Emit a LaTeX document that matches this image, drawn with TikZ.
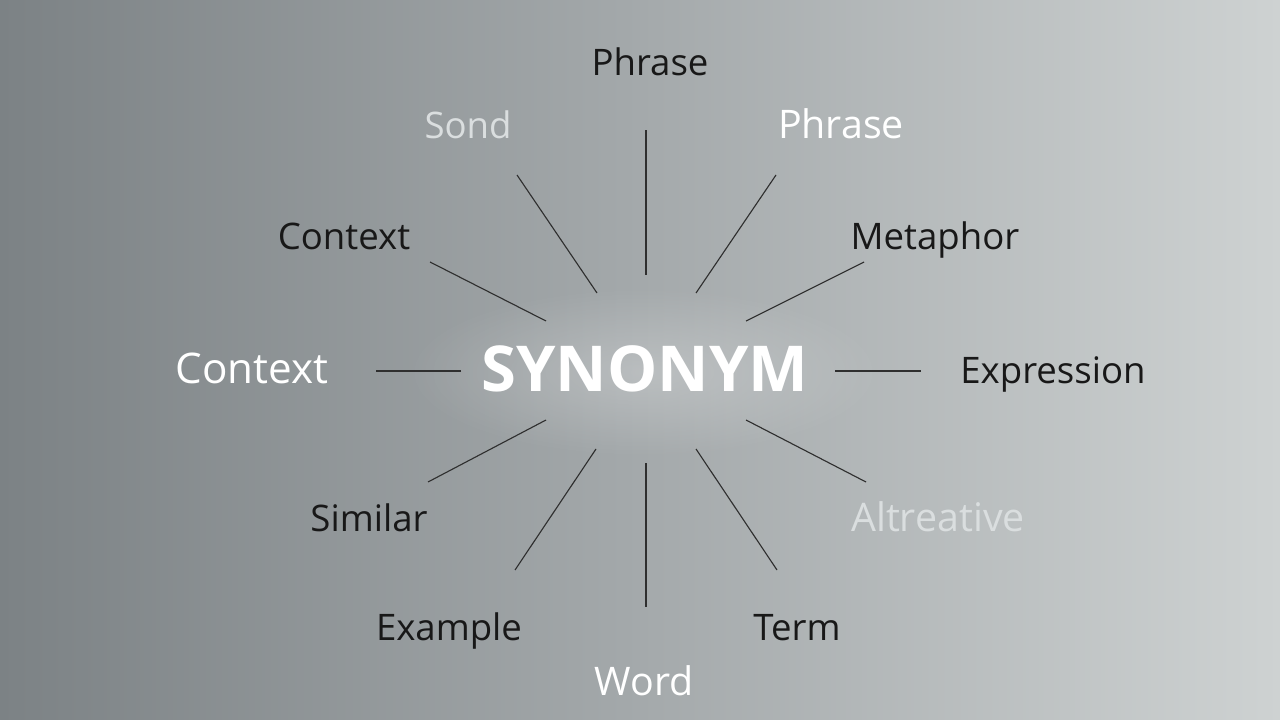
\documentclass[tikz,border=0pt]{standalone}
\usepackage{fontspec}
\setmainfont{Open Sans}
\usetikzlibrary{fadings}

\definecolor{bgleft}{RGB}{124,130,133}
\definecolor{bgmid}{RGB}{164,169,171}
\definecolor{bgright}{RGB}{206,210,210}
\definecolor{ink}{RGB}{24,24,24}
\definecolor{faded}{RGB}{218,222,223}

\tikzstyle{word}=[anchor=base,inner sep=0pt,font=\fontsize{26}{30}\selectfont]
\tikzstyle{big}=[font=\fontsize{28}{32}\selectfont]
\tikzstyle{dark}=[word,text=ink]
\tikzstyle{light}=[word,big,text=white]
\tikzstyle{ghost}=[word,text=faded]
\tikzstyle{spoke}=[draw=ink!90,line width=0.8pt]
\tikzfading[name=glowfade,inner color=transparent!30,outer color=transparent!100]

\begin{document}
\begin{tikzpicture}[x=0.025cm,y=-0.025cm]
  \useasboundingbox (0,0) rectangle (1280,720);
  % background
  \shade[left color=bgleft,right color=bgright,middle color=bgmid] (0,0) rectangle (1280,720);
  \fill[white,opacity=0.35,path fading=glowfade] (645,372) ellipse (240 and 85);

  % centre word
  \node[anchor=base,inner sep=0pt,text=white,font=\fontsize{45}{54}\selectfont\bfseries] (syn) at (645,392) {SYNONYM};

  % labels round the centre
  \node[dark]  (phrT) at (650,76)   {Phrase};
  \node[ghost] (sond) at (468,139)  {Sond};
  \node[light] (phrR) at (841,139)  {Phrase};
  \node[dark]  (ctxU) at (344,250)  {Context};
  \node[dark]  (meta) at (935,250)  {Metaphor};
  \node[light,font=\fontsize{30}{34}\selectfont] (ctxL) at (252,384) {Context};
  \node[dark]  (expr) at (1053,384) {Expression};
  \node[dark]  (simi) at (369,531)  {Similar};
  \node[ghost,big] (altr) at (938,531) {Altreative};
  \node[dark]  (exam) at (449,640)  {Example};
  \node[dark]  (term) at (797,640)  {Term};
  \node[light] (word) at (644,695)  {Word};

  % spokes
  \foreach \n/\xa/\ya/\xb/\yb in {
      1/646/275/646/130,
      2/597/293/517/175,
      3/696/293/776/175,
      4/546/321/430/262,
      5/746/321/864/262,
      6/461/371/376/371,
      7/835/371/921/371,
      8/546/420/428/482,
      9/746/420/866/482,
      10/596/449/515/570,
      11/696/449/777/570,
      12/646/463/646/607}{
    \coordinate (in\n) at (\xa,\ya);
    \coordinate (out\n) at (\xb,\yb);
    \draw[spoke] (in\n) -- (out\n);
  }
\end{tikzpicture}
\end{document}
